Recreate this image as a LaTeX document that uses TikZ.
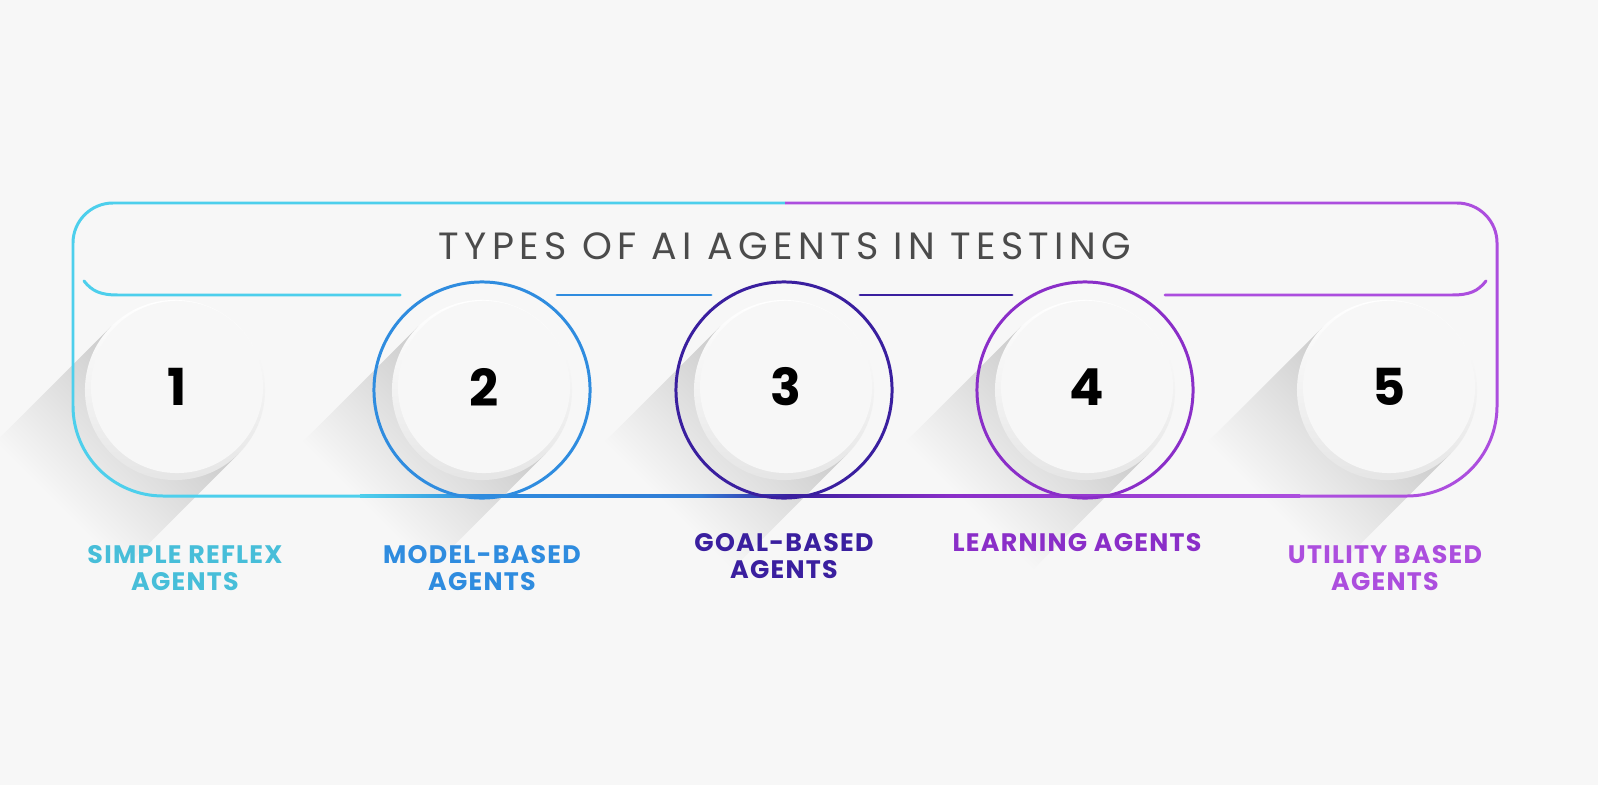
\documentclass[tikz,border=0pt]{standalone}
\usepackage{fontspec}
\setmainfont{Poppins}
\newfontfamily\titlefont[LetterSpace=14]{Poppins}
\newfontfamily\labelfont[LetterSpace=5]{Poppins}
\usepackage{tikz}
\usetikzlibrary{
    calc,
    positioning,
}
\definecolor{PageBG}{HTML}{F7F7F7}
\definecolor{AgentCyan}{HTML}{4DCFEC}
\definecolor{AgentBlue}{HTML}{2F8CDF}
\definecolor{AgentIndigo}{HTML}{3A1F9F}
\definecolor{AgentPurple}{HTML}{8A2EC8}
\definecolor{AgentLilac}{HTML}{AC4EDE}
\definecolor{TitleGrey}{HTML}{4B4B4B}
\tikzstyle{longshadow}=[left color=black!21,middle color=black!7!PageBG,right color=PageBG]
\tikzstyle{disc}=[circle,inner sep=0pt,minimum size=1.8cm,top color=white,bottom color=black!10]
\tikzstyle{face}=[circle,inner sep=0pt,minimum size=1.72cm,fill=white!97!black,font=\bfseries\fontsize{14.5}{15}\selectfont]
\tikzstyle{ring}=[draw,circle,line width=0.85pt,inner sep=0pt,minimum size=2.16cm]
\tikzstyle{frameline}=[line width=0.85pt]
\tikzstyle{agentline}=[line width=0.85pt,line cap=round]
\tikzstyle{title}=[text=TitleGrey,font=\titlefont\fontsize{10.8}{12}\selectfont]
\tikzstyle{agentlabel}=[align=center,inner sep=0pt,font=\labelfont\bfseries\fontsize{7.2}{7.7}\selectfont]
\newcommand{\Agent}[3]{%
    \begin{scope}[transform canvas={shift={(#2,390)},rotate=-135}]
        \shade[longshadow] (0,-90) rectangle (165,90);
    \end{scope}
    \node[disc] (#1) at (#2,390) {};
    \node[face] (#1 face) at ($(#1)+(2,-3)$) {#3};
}

\begin{document}
\begin{tikzpicture}[x=0.01cm,y=-0.01cm]
    \fill[PageBG,use as bounding box] (0,0) rectangle (1598,785);

    % Discs
    \Agent{one}{175}{1}
    \Agent{two}{482}{2}
    \Agent{three}{784}{3}
    \Agent{four}{1085}{4}
    \Agent{five}{1387}{5}

    % Frame
    \draw[frameline,AgentCyan] (785,203) -- (113,203) arc[start angle=-90,end angle=-180,radius=40]
        -- (73,406) arc[start angle=180,end angle=90,radius=90] -- (360,496);
    \draw[frameline,AgentLilac] (785,203) -- (1457,203) arc[start angle=-90,end angle=0,radius=40]
        -- (1497,406) arc[start angle=0,end angle=90,radius=90] -- (1300,496);
    \shade[left color=AgentCyan,right color=AgentBlue] (360,494.5) rectangle (480,497.5);
    \shade[left color=AgentBlue,right color=AgentBlue!85!AgentIndigo] (480,494.5) rectangle (700,497.5);
    \shade[left color=AgentBlue!85!AgentIndigo,right color=AgentIndigo] (700,494.5) rectangle (790,497.5);
    \shade[left color=AgentIndigo,right color=AgentPurple] (790,494.5) rectangle (950,497.5);
    \shade[left color=AgentPurple,right color=AgentLilac] (950,494.5) rectangle (1300,497.5);

    % Rings
    \node[ring,draw=AgentBlue] (two ring) at (two) {};
    \node[ring,draw=AgentIndigo] (three ring) at (three) {};
    \node[ring,draw=AgentPurple] (four ring) at (four) {};

    % Divider under the title
    \draw[agentline,AgentCyan] (84,281) .. controls (92,291) and (100,295) .. (118,295) -- (400,295);
    \draw[agentline,AgentBlue] (557,295) -- (711,295);
    \draw[agentline,AgentIndigo] (860,295) -- (1012,295);
    \draw[agentline,AgentLilac] (1165,295) -- (1452,295) .. controls (1470,295) and (1478,291) .. (1486,281);

    \node[title] (title) at (785,246) {TYPES OF AI AGENTS IN TESTING};

    % Labels
    \node[agentlabel,text=AgentCyan!92!black] (one label) at (185,568.5) {SIMPLE REFLEX\\AGENTS};
    \node[agentlabel,text=AgentBlue] (two label) at (482,568.5) {MODEL-BASED\\AGENTS};
    \node[agentlabel,text=AgentIndigo] (three label) at (784,556.5) {GOAL-BASED\\AGENTS};
    \node[agentlabel,text=AgentPurple] (four label) at (1077,543) {LEARNING AGENTS};
    \node[agentlabel,text=AgentLilac] (five label) at (1385,568.5) {UTILITY BASED\\AGENTS};
\end{tikzpicture}
\end{document}
